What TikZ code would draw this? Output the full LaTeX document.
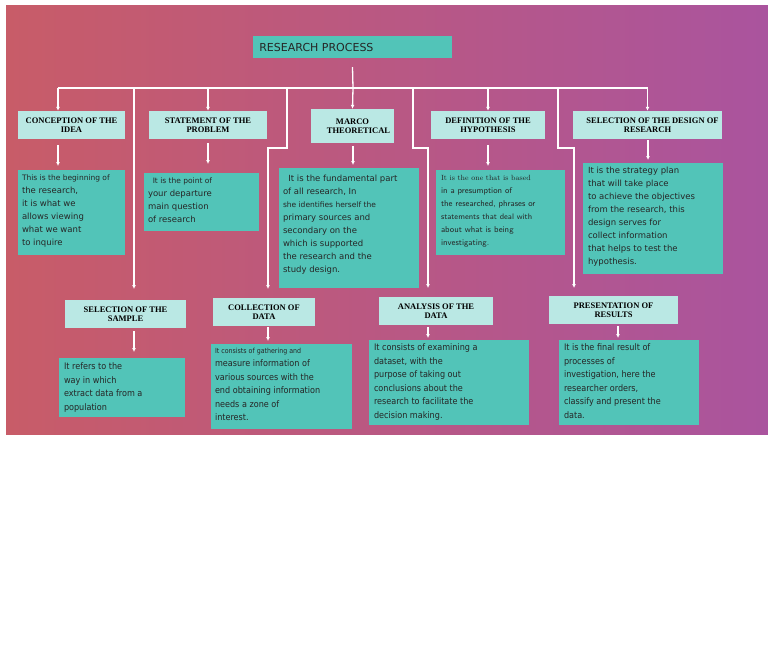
\documentclass[tikz,border=0pt]{standalone}
\usepackage{fontspec}
\setmainfont{Liberation Serif}
\newfontfamily\cfont{DejaVu Sans}
\newfontfamily\cnfont{DejaVu Sans Condensed}
\begin{document}
\begin{tikzpicture}[x=1pt,y=-1pt,
  hbox/.style={fill=hcol,inner sep=0pt,font=\bfseries\fontsize{8.5}{9.5}\selectfont,align=center},
  cbox/.style={fill=ccol,inner sep=0pt},
  ctext/.style={anchor=north west,inner sep=0pt,align=left,font=\cfont\fontsize{8.5}{13}\selectfont,text=black!85},
  ntext/.style={anchor=north west,inner sep=0pt,align=left,font=\cnfont\fontsize{9}{13.5}\selectfont,text=black!85},
  ln/.style={draw=white,line width=1.3pt},
  arr/.style={ln,-{Latex[length=4pt,width=4pt]}}]
\usetikzlibrary{arrows.meta}
\definecolor{hcol}{RGB}{186,232,228}
\definecolor{ccol}{RGB}{82,196,184}
\definecolor{bgl}{RGB}{200,92,104}
\definecolor{bgr}{RGB}{170,84,158}
\useasboundingbox[fill=white] (0,0) rectangle (768,669);
\shade[left color=bgl,right color=bgr] (6,6) rectangle (768,434);
% title
\node[fill=ccol,minimum width=199pt,minimum height=22pt,inner sep=0pt] (title) at (352.5,47) {};
\node[anchor=west,font=\cfont\fontsize{11}{12}\selectfont,text=black!85] at ([xshift=3pt]title.west) {RESEARCH PROCESS};
% headers
\node[hbox,minimum width=107pt,minimum height=28pt] (h1) at (71.5,125) {CONCEPTION OF THE\\IDEA};
\node[hbox,minimum width=118pt,minimum height=28pt] (h2) at (208,125) {STATEMENT OF THE\\PROBLEM};
\node[hbox,minimum width=83pt,minimum height=34pt] (h3) at (352.5,126) {MARCO\\\hspace*{12pt}THEORETICAL};
\node[hbox,minimum width=114pt,minimum height=28pt] (h4) at (488,125) {DEFINITION OF THE\\HYPOTHESIS};
\node[hbox,minimum width=149pt,minimum height=28pt] (h5) at (647.5,125) {\hspace*{10pt}SELECTION OF THE DESIGN OF\\RESEARCH};
\node[hbox,minimum width=121pt,minimum height=28pt] (h6) at (125.5,314) {SELECTION OF THE\\SAMPLE};
\node[hbox,minimum width=102pt,minimum height=28pt] (h7) at (264,312) {COLLECTION OF\\DATA};
\node[hbox,minimum width=114pt,minimum height=28pt] (h8) at (436,311) {ANALYSIS OF THE\\DATA};
\node[hbox,minimum width=129pt,minimum height=28pt] (h9) at (613.5,310) {PRESENTATION OF\\RESULTS};
% content boxes
\node[cbox,minimum width=107pt,minimum height=85pt] (c1) at (71.5,212.5) {};
\node[cbox,minimum width=115pt,minimum height=58pt] (c2) at (201.5,202) {};
\node[cbox,minimum width=140pt,minimum height=120pt] (c3) at (349,228) {};
\node[cbox,minimum width=129pt,minimum height=85pt] (c4) at (500.5,212.5) {};
\node[cbox,minimum width=140pt,minimum height=111pt] (c5) at (653,218.5) {};
\node[cbox,minimum width=126pt,minimum height=59pt] (c6) at (122,387.5) {};
\node[cbox,minimum width=141pt,minimum height=85pt] (c7) at (281.5,386.5) {};
\node[cbox,minimum width=160pt,minimum height=85pt] (c8) at (449,382.5) {};
\node[cbox,minimum width=140pt,minimum height=85pt] (c9) at (629,382.5) {};
% texts
\node[ctext] (t1) at ([xshift=4pt,yshift=-5pt]c1.north west) {{\fontsize{7.5}{12}\selectfont This is the beginning of}\\the research,\\it is what we\\allows viewing\\what we want\\to inquire};
\node[ctext] (t2) at ([xshift=4pt,yshift=-5pt]c2.north west) {{\fontsize{7.5}{12}\selectfont\ \ It is the point of}\\your departure\\main question\\of research};
\node[ctext] (t3) at ([xshift=4pt,yshift=-7pt]c3.north west) {\ \ It is the fundamental part\\of all research, In\\{\fontsize{7.5}{13}\selectfont she identifies herself the}\\primary sources and\\secondary on the\\which is supported\\the research and the\\study design.};
\node[ctext,font=\fontsize{8.5}{13}\selectfont\sffamily] (t4) at ([xshift=5pt,yshift=-5pt]c4.north west) {\fontfamily{}{\fontsize{7.5}{12}\selectfont It is the one that is based}\\in a presumption of\\the researched, phrases or\\{\fontsize{8}{13}\selectfont statements that deal with}\\about what is being\\investigating.};
\node[ctext] (t5) at ([xshift=5pt,yshift=-4pt]c5.north west) {It is the strategy plan\\that will take place\\to achieve the objectives\\from the research, this\\design serves for\\collect information\\that helps to test the\\hypothesis.};
\node[ntext] (t6) at ([xshift=5pt,yshift=-5pt]c6.north west) {It refers to the\\way in which\\extract data from a\\population};
\node[ntext] (t7) at ([xshift=4pt,yshift=-4pt]c7.north west) {{\fontsize{7}{12}\selectfont It consists of gathering and}\\measure information of\\various sources with the\\end obtaining information\\needs a zone of\\interest.};
\node[ntext] (t8) at ([xshift=5pt,yshift=-4pt]c8.north west) {It consists of examining a\\dataset, with the\\purpose of taking out\\conclusions about the\\research to facilitate the\\decision making.};
\node[ntext] (t9) at ([xshift=5pt,yshift=-4pt]c9.north west) {It is the final result of\\processes of\\investigation, here the\\researcher orders,\\classify and present the\\data.};
% tree
\coordinate (top) at (353,88);
\draw[ln] ([yshift=-9pt]title.south) -- (top);
\draw[ln] (58,88) -- (648,88);
\draw[arr] (58,88) -- (h1.north -| 58,0);
\draw[arr] (h2.north |- top) -- (h2.north);
\draw[arr] (top) -- (h3.north);
\draw[arr] (h4.north |- top) -- (h4.north);
\draw[arr] (h5.north |- top) -- (h5.north);
\draw[arr] (134,88) -- (134,289);
\draw[arr] (287,88) -- (287,148) -- (268,148) -- (268,289);
\draw[arr] (413,88) -- (413,148) -- (428,148) -- (428,288);
\draw[arr] (558,88) -- (558,148) -- (574,148) -- (574,288);
% header to content
\draw[arr] (58,145) -- (58,166);
\draw[arr] (208,143) -- (208,164);
\draw[arr] (353,146) -- (353,165);
\draw[arr] (488,145) -- (488,166);
\draw[arr] (648,140) -- (648,160);
\draw[arr] (134,331) -- (134,352);
\draw[arr] (268,327) -- (268,341);
\draw[arr] (428,327) -- (428,338);
\draw[arr] (618,326) -- (618,338);
\end{tikzpicture}
\end{document}
